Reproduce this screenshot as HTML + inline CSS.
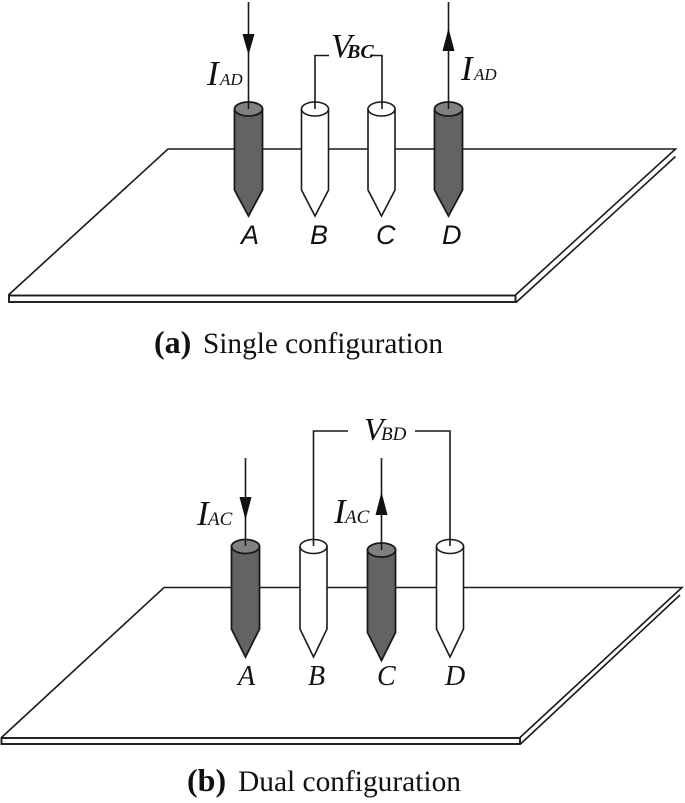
<!DOCTYPE html>
<html><head><meta charset="utf-8"><style>
html,body{margin:0;padding:0;background:#fff}
svg{display:block}
text{font-family:"Liberation Serif",serif;fill:#111}
.i{font-style:italic}
.s{font-family:"Liberation Sans",sans-serif;font-style:italic;font-size:27px}
</style></head><body>
<svg width="685" height="803" viewBox="0 0 685 803" xmlns="http://www.w3.org/2000/svg">
<defs>
<g id="pd">
<path d="M-14 0V81L0 107L14 81V0Z" fill="#636363" stroke="#1a1a1a" stroke-width="1.8"/>
<ellipse cx="0" cy="0" rx="14" ry="7" fill="#808080" stroke="#1a1a1a" stroke-width="1.8"/>
</g>
<g id="pw">
<path d="M-13.500 0V81L0 107L13.500 81V0Z" fill="#fff" stroke="#1a1a1a" stroke-width="1.6"/>
<ellipse cx="0" cy="0" rx="13.500" ry="7" fill="#fff" stroke="#1a1a1a" stroke-width="1.6"/>
</g>
<g id="pd2">
<path d="M-14 0V82.500L0 110.500L14 82.500V0Z" fill="#636363" stroke="#1a1a1a" stroke-width="1.8"/>
<ellipse cx="0" cy="0" rx="14" ry="7" fill="#808080" stroke="#1a1a1a" stroke-width="1.8"/>
</g>
<g id="pw2">
<path d="M-13.500 0V82.500L0 110.500L13.500 82.500V0Z" fill="#fff" stroke="#1a1a1a" stroke-width="1.6"/>
<ellipse cx="0" cy="0" rx="13.500" ry="7" fill="#fff" stroke="#1a1a1a" stroke-width="1.6"/>
</g>
</defs>

<!-- Plate (a) -->
<g fill="none" stroke="#1a1a1a" stroke-width="1.6">
<path d="M8.500 295L168 149H675.500L515.500 295"/>
<path d="M516 302.500L675.500 156.500"/>
<rect x="9" y="295.500" width="506.500" height="6.500" stroke-width="1.900"/>
</g>
<use href="#pd" x="248.500" y="109"/>
<use href="#pw" x="315" y="109"/>
<use href="#pw" x="381.500" y="109"/>
<use href="#pd" x="448.500" y="109"/>
<g fill="none" stroke="#1a1a1a" stroke-width="1.6">
<path d="M248.500 2V109"/>
<path d="M448.500 2V109"/>
<path d="M315 109V55.500H329"/>
<path d="M370 55.500H382V109"/>
</g>
<path d="M242.500 34H254.500L248.500 55Z" fill="#111"/>
<path d="M442.500 51H454.500L448.500 28Z" fill="#111"/>
<text class="i" x="207" y="85" font-size="35">I</text>
<text class="i" x="220" y="85" font-size="17">AD</text>
<text class="i" x="461" y="80" font-size="35">I</text>
<text class="i" x="474" y="80" font-size="17">AD</text>
<text class="i" x="331" y="57" font-size="34">V</text>
<text class="i" x="347" y="58" font-size="20" font-weight="bold">BC</text>
<text class="s" x="241" y="244">A</text>
<text class="s" x="310" y="244">B</text>
<text class="s" x="376" y="244">C</text>
<text class="s" x="442" y="244">D</text>
<text x="154" y="353" font-size="32" font-weight="bold">(a)</text>
<text x="203" y="353" font-size="30" textLength="240" lengthAdjust="spacingAndGlyphs">Single configuration</text>

<!-- Plate (b) -->
<g fill="none" stroke="#1a1a1a" stroke-width="1.6">
<path d="M1.500 737.500L164 587.500H682L520 737.500"/>
<path d="M520.500 744L680 595"/>
<rect x="1.500" y="738" width="518.500" height="6" stroke-width="1.900"/>
</g>
<use href="#pd2" x="245.500" y="546.500"/>
<use href="#pw2" x="313.500" y="546.500"/>
<use href="#pd2" x="381.500" y="550"/>
<use href="#pw2" x="450" y="546.500"/>
<g fill="none" stroke="#1a1a1a" stroke-width="1.6">
<path d="M245.500 458V546"/>
<path d="M381.500 458V550"/>
<path d="M313.500 546V431H348"/>
<path d="M415 431H450V546"/>
</g>
<path d="M239.500 497H251.500L245.500 520Z" fill="#111"/>
<path d="M375.500 515H387.500L381.500 492Z" fill="#111"/>
<text class="i" x="197" y="525" font-size="35">I</text>
<text class="i" x="208" y="525" font-size="19">AC</text>
<text class="i" x="334" y="523" font-size="35">I</text>
<text class="i" x="345" y="523" font-size="19">AC</text>
<text class="i" x="364" y="440" font-size="32">V</text>
<text class="i" x="381" y="440" font-size="19">BD</text>
<text class="i" x="238" y="685" font-size="28">A</text>
<text class="i" x="308" y="685" font-size="28">B</text>
<text class="i" x="377" y="685" font-size="28">C</text>
<text class="i" x="445" y="685" font-size="28">D</text>
<text x="187" y="791" font-size="32" font-weight="bold">(b)</text>
<text x="238" y="791" font-size="30" textLength="223" lengthAdjust="spacingAndGlyphs">Dual configuration</text>
</svg>
</body></html>
